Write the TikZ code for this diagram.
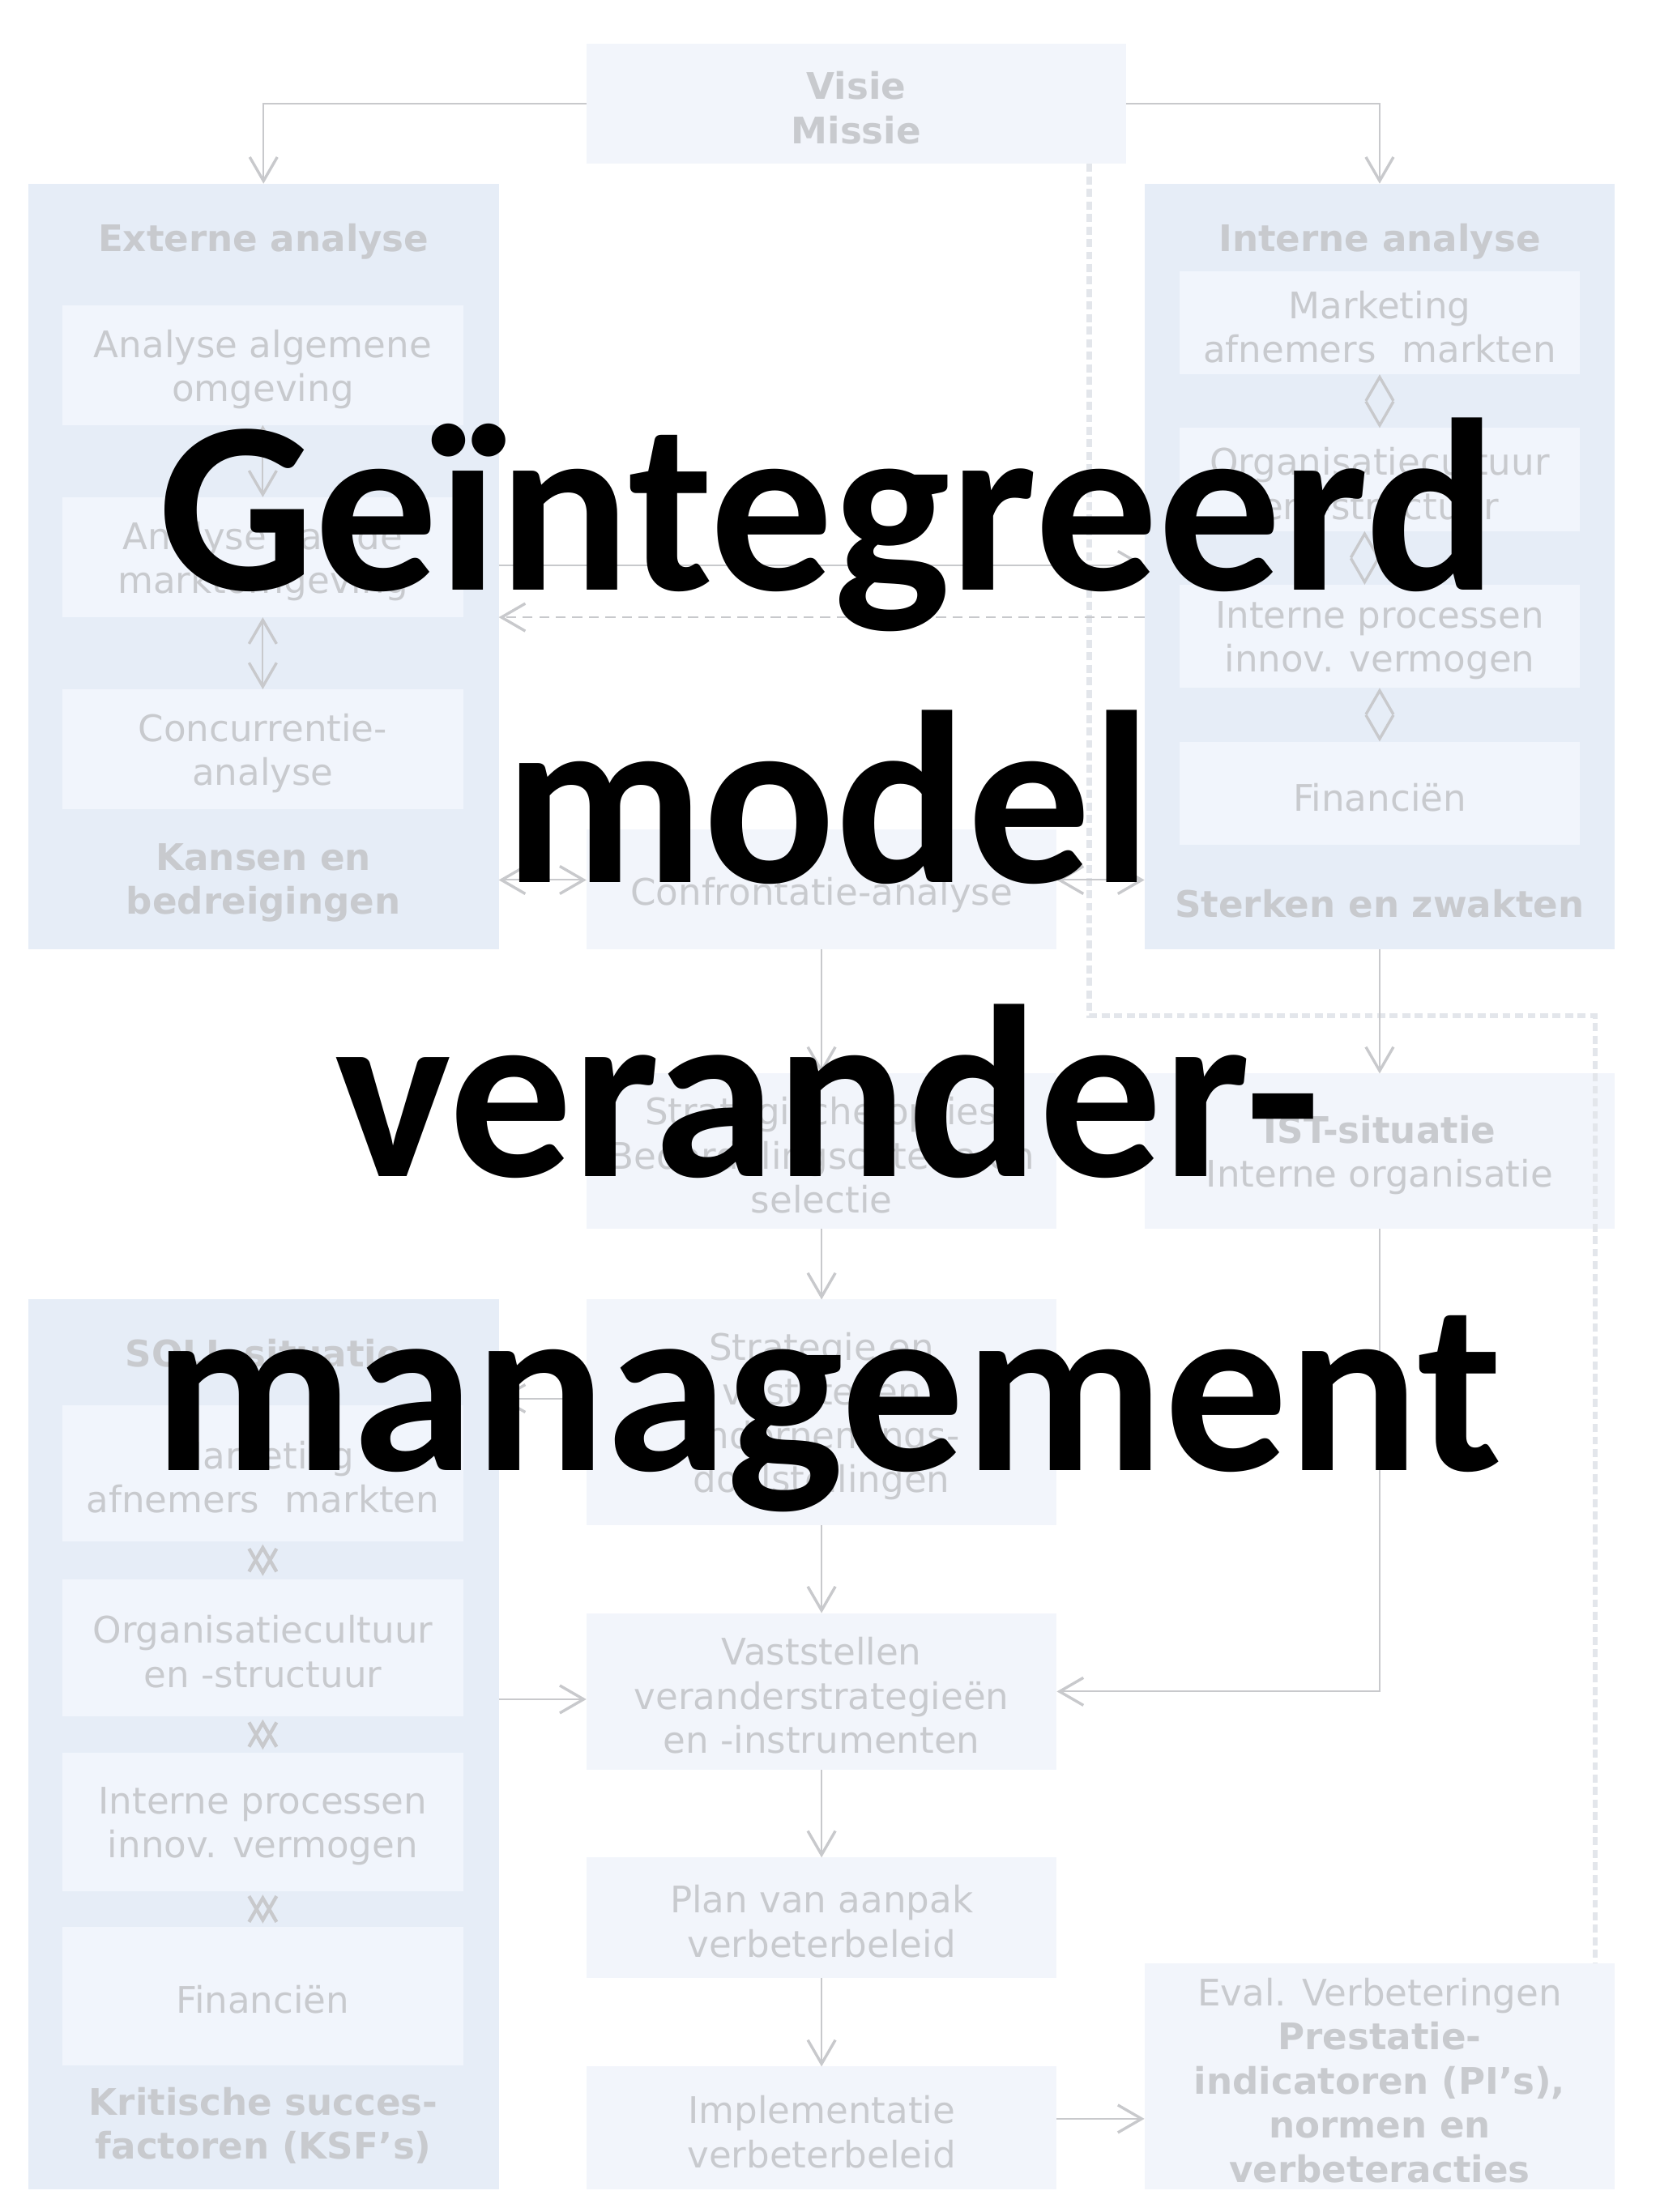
\documentclass[tikz,border=0pt]{standalone}
\usepackage{fontspec}
\setmainfont{DejaVu Sans}
\newfontfamily\bigfont{Carlito}
\usetikzlibrary{arrows.meta,fit}
\definecolor{outerc}{HTML}{E6EDF7}
\definecolor{innerc}{HTML}{F1F5FC}
\definecolor{midc}{HTML}{F2F5FB}
\definecolor{textc}{HTML}{C8CACE}
\definecolor{linec}{HTML}{C8C9CC}
\definecolor{dotc}{HTML}{E3E6EB}
\tikzset{
  obox/.style={fill=outerc, draw=none, inner sep=0pt, outer sep=0pt},
  ibox/.style={fill=innerc, draw=none, inner sep=0pt, outer sep=0pt},
  mbox/.style={fill=midc, draw=none, inner sep=0pt, outer sep=0pt},
  txt/.style={text=textc, align=center, inner sep=0pt, yshift=-1.6pt, font=\fontsize{14.6}{17.6}\selectfont},
  ttl/.style={txt, font=\fontsize{14.6}{17.6}\selectfont\bfseries},
  conn/.style={draw=linec, line width=0.65pt},
  arr/.style={conn, -{Straight Barb[length=9.5pt,width=11pt,line width=1.1pt]}},
  dbl/.style={conn, {Straight Barb[length=9.5pt,width=11pt,line width=1.1pt]}-{Straight Barb[length=9.5pt,width=11pt,line width=1.1pt]}},
  hid/.style={dbl, dash pattern=on 0pt off 200pt, line cap=butt},
  starc/.style={draw=linec, dash pattern=on 0pt off 200pt, line cap=butt, {Straight Barb[length=9.5pt,width=11pt,line width=1.4pt]}-{Straight Barb[length=9.5pt,width=11pt,line width=1.4pt]}, shorten <=1.3pt, shorten >=1.3pt},
  dashline/.style={dash pattern=on 4pt off 2.6pt},
  dotline/.style={draw=dotc, line width=2.2pt, dash pattern=on 3.2pt off 1.8pt},
  big/.style={text=black, anchor=base, inner sep=0pt, font=\bigfont\bfseries\fontsize{98}{118}\selectfont}
}
\begin{document}
\begin{tikzpicture}[x=0.019822cm,y=-0.019822cm]
\useasboundingbox[fill=white] (0,0) rectangle (1174.5,1566);

% ---------- boxes ----------
\node[mbox, fit={(415,31)(797,116)}] (visie) {};
\node[ttl] (visieT) at (visie.center) {Visie\\Missie};

\node[obox, fit={(20,130)(353,672)}] (ext) {};
\node[ttl] (extT) at (186.5,168) {Externe analyse};
\node[ibox, fit={(44,216)(328,301)}] (e1) {};
\node[txt] (e1t) at (e1.center) {Analyse algemene\\omgeving};
\node[ibox, fit={(44,352)(328,437)}] (e2) {};
\node[txt] (e2t) at (e2.center) {Analyse van de\\marktomgeving};
\node[ibox, fit={(44,488)(328,573)}] (e3) {};
\node[txt] (e3t) at (e3.center) {Concurrentie-\\analyse};
\node[ttl] (extB) at (186.5,622) {Kansen en\\bedreigingen};

\node[obox, fit={(810,130)(1143,672)}] (int) {};
\node[ttl] (intT) at (976.5,168) {Interne analyse};
\node[ibox, fit={(835,192)(1118,265)}] (i1) {};
\node[txt] (i1t) at (i1.center) {Marketing\\afnemers\hspace{0.7em}markten};
\node[ibox, fit={(835,303)(1118,376)}] (i2) {};
\node[txt] (i2t) at (i2.center) {Organisatiecultuur\\en -structuur};
\node[ibox, fit={(835,414)(1118,487)}] (i3) {};
\node[txt] (i3t) at (i3.center) {Interne processen\\innov. vermogen};
\node[ibox, fit={(835,525)(1118,598)}] (i4) {};
\node[txt] (i4t) at (i4.center) {Financiën};
\node[ttl] (intB) at (976.5,637) {Sterken en zwakten};

\node[mbox, fit={(415,587)(748,672)}] (conf) {};
\node[txt] (conft) at (581.5,631) {Confrontatie-analyse};

\node[mbox, fit={(415,760)(748,870)}] (strat) {};
\node[txt] (stratt) at (strat.center) {Strategische opties\\Beoordelingscriteria en\\selectie};
\node[mbox, fit={(810,760)(1143,870)}] (ist) {};
\node[txt] (istt) at (ist.center) {\textbf{IST-situatie}\\Interne organisatie};
\node[mbox, fit={(415,920)(748,1080)}] (strg) {};
\node[txt] (strgt) at (strg.center) {Strategie en\\vaststellen\\ondernemings-\\doelstellingen};

\node[obox, fit={(20,920)(353,1550)}] (soll) {};
\node[ttl] (sollT) at (186.5,955) {SOLL-situatie};
\node[ibox, fit={(44,995)(328,1091)}] (s1) {};
\node[txt] (s1t) at (s1.center) {Marketing\\afnemers\hspace{0.7em}markten};
\node[ibox, fit={(44,1118)(328,1215)}] (s2) {};
\node[txt] (s2t) at (s2.center) {Organisatiecultuur\\en -structuur};
\node[ibox, fit={(44,1241)(328,1339)}] (s3) {};
\node[txt] (s3t) at (s3.center) {Interne processen\\innov. vermogen};
\node[ibox, fit={(44,1364)(328,1462)}] (s4) {};
\node[txt] (s4t) at (s4.center) {Financiën};
\node[ttl] (sollB) at (186.5,1502) {Kritische succes-\\factoren (KSF’s)};

\node[mbox, fit={(415,1142)(748,1253)}] (vast) {};
\node[txt] (vastt) at (vast.center) {Vaststellen\\veranderstrategieën\\en -instrumenten};
\node[mbox, fit={(415,1315)(748,1400)}] (plan) {};
\node[txt] (plant) at (plan.center) {Plan van aanpak\\verbeterbeleid};
\node[mbox, fit={(415,1463)(748,1550)}] (impl) {};
\node[txt] (implt) at (impl.center) {Implementatie\\verbeterbeleid};
\node[mbox, fit={(810,1390)(1143,1550)}] (eval) {};
\node[txt] (evalt) at (eval.center) {Eval. Verbeteringen\\\textbf{Prestatie-}\\\textbf{indicatoren (PI’s),}\\\textbf{normen en}\\\textbf{verbeteracties}};

% ---------- helper coordinates ----------
\coordinate (yA) at (0,990);
\coordinate (yB) at (0,1203);
\coordinate (yC) at (0,400);
\coordinate (yD) at (0,437);
\coordinate (yE) at (0,623);
\coordinate (yF) at (0,1500);
\coordinate (d1) at (771,116);
\coordinate (d2) at (771,719);
\coordinate (d3) at (1129,1390);

% ---------- dotted feedback line ----------
\draw[dotline] (d1) -- (d2) -| (d3);

% ---------- connectors ----------
\draw[arr] (visie.west) -| (ext.north);
\draw[arr] (visie.east) -| (int.north);

\draw[dbl] (e1.south) -- (e2.north);
\draw[dbl] (e2.south) -- (e3.north);

\draw[hid] (i1.south) -- (i2.north);
\draw[hid] ([xshift=-6]i2.south) -- ([xshift=-6]i3.north);
\draw[hid] (i3.south) -- (i4.north);

\draw[arr] (ext.east |- yC) -- (int.west |- yC);
\draw[arr, dashline] (int.west |- yD) -- (ext.east |- yD);

\draw[dbl] (ext.east |- yE) -- (conf.west |- yE);
\draw[dbl] (conf.east |- yE) -- (int.west |- yE);

\draw[arr] (conf.south) -- (strat.north);
\draw[arr] (int.south) -- (ist.north);
\draw[arr] (strat.south) -- (strg.north);
\draw[arr] (strg.west |- yA) -- (soll.east |- yA);

\draw[starc] (s1.south) -- (s2.north);
\draw[starc] (s2.south) -- (s3.north);
\draw[starc] (s3.south) -- (s4.north);

\draw[arr] (soll.east |- yB) -- (vast.west |- yB);
\draw[arr] (strg.south) -- (vast.north);
\draw[arr] (ist.south) |- (vast.east);
\draw[arr] (vast.south) -- (plan.north);
\draw[arr] (plan.south) -- (impl.north);
\draw[arr] (impl.east |- yF) -- (eval.west |- yF);

% ---------- overlay title ----------
\node[big] (t1) at (586,418) {Geïntegreerd};
\node[big] (t2) at (586,625) {model};
\node[big] (t3) at (586,833) {verander-};
\node[big] (t4) at (586,1041) {management};
\end{tikzpicture}
\end{document}
